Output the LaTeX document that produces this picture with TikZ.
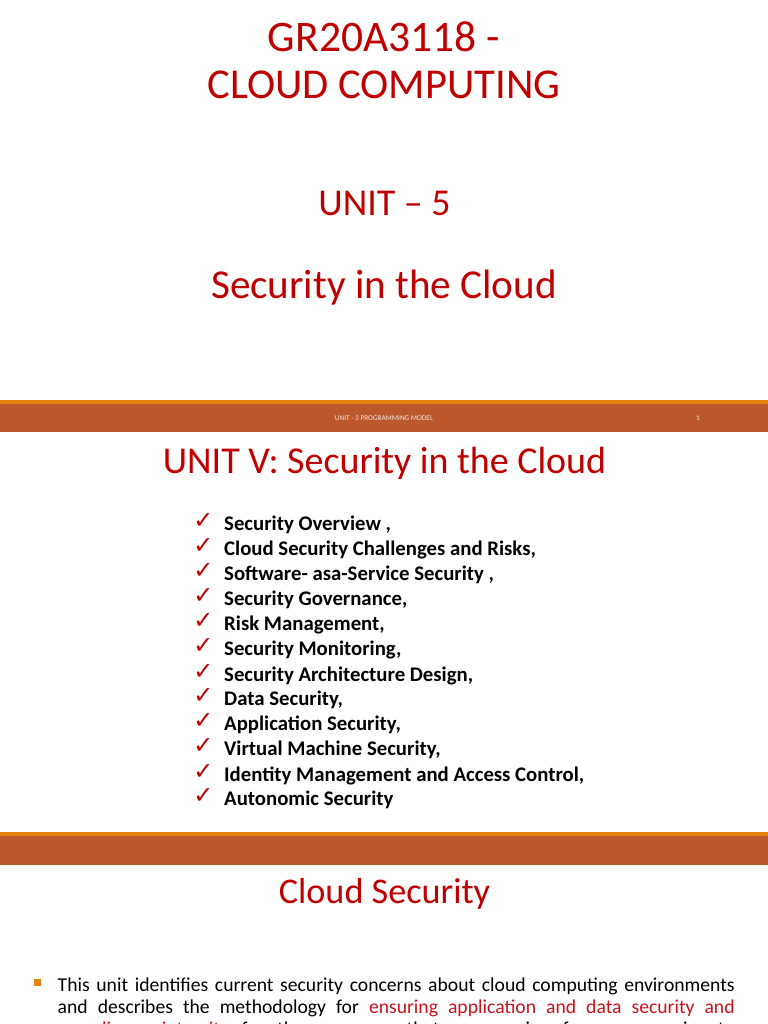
\documentclass[tikz,border=0pt]{standalone}
\usepackage{fontspec}
\setmainfont{Carlito}
\newfontfamily\symfont{DejaVu Sans}
\hyphenpenalty=10000
\definecolor{titlered}{RGB}{192,0,0}
\definecolor{barrust}{RGB}{187,88,44}
\definecolor{barorange}{RGB}{230,130,20}
\definecolor{textred}{RGB}{200,20,30}
\tikzset{
	titletext/.style={text=titlered,inner sep=0pt,font=\fontsize{#1pt}{13pt}\selectfont},
	itemtext/.style={anchor=west,font=\fontsize{5.91pt}{7pt}\selectfont\bfseries,inner sep=0pt},
	ticktext/.style={text=titlered,font=\fontsize{6.8pt}{7pt}\selectfont\symfont,inner sep=0pt},
	bodytext/.style={anchor=north west,font=\fontsize{5.59pt}{6.25pt}\selectfont,inner sep=0pt,text width=6.77cm,align=justify},
	bartext/.style={text=white!85!barrust,font=\fontsize{2.07pt}{2.4pt}\selectfont,inner sep=0pt}
}
\begin{document}
\begin{tikzpicture}[scale=1,auto=center]
			\useasboundingbox (0,0) rectangle (7.68,10.24);
			\clip (0,0) rectangle (7.68,10.24);
			% first slide
			\node[titletext=12.4] (code) at (3.84,9.87) {GR20A3118 -};
			\node[titletext=12.1] (course) at (3.84,9.39) {CLOUD COMPUTING};
			\node[titletext=10.8] (unit) at (3.845,8.21) {UNIT -- 5};
			\node[titletext=11.7] (topic) at (3.84,7.36) {Security in the Cloud};
			\fill[barrust] (0,5.92) rectangle (7.68,6.2);
			\fill[barorange] (0,6.2) rectangle (7.68,6.24);
			\node[bartext] (footer) at (3.84,6.055) {UNIT - 3 PROGRAMMING MODEL};
			\node[bartext] (page) at (6.98,6.055) {1};
			% second slide
			\node[titletext=10.8] (unitv) at (3.845,5.61) {UNIT V: Security in the Cloud};
			\foreach \y/\name in {
				4.99/Security Overview {,},
				4.74/{Cloud Security Challenges and Risks,},
				4.49/Software- asa-Service Security {,},
				4.24/{Security Governance,},
				3.99/{Risk Management,},
				3.74/{Security Monitoring,},
				3.485/{Security Architecture Design,},
				3.24/{Data Security,},
				2.99/{Application Security,},
				2.74/{Virtual Machine Security,},
				2.485/{Identity Management and Access Control,},
				2.24/Autonomic Security}
			{
				\node[ticktext] at (2.035,\y+0.04) {✓};
				\node[itemtext] at (2.235,\y) {\name};
			}
			\fill[barrust] (0,1.59) rectangle (7.68,1.875);
			\fill[barorange] (0,1.875) rectangle (7.68,1.915);
			% third slide
			\node[titletext=10.3] (cloud) at (3.845,1.30) {Cloud Security};
			\fill[barorange] (0.34,0.38) rectangle (0.41,0.45);
			\node[bodytext] (para) at (0.57,0.47) {This unit identifies current security concerns about cloud computing environments and describes the methodology for \textcolor{textred}{ensuring application and data security and\linebreak compliance integrity} for the resources that are moving from on-premise to\linebreak};
\end{tikzpicture}
\end{document}
